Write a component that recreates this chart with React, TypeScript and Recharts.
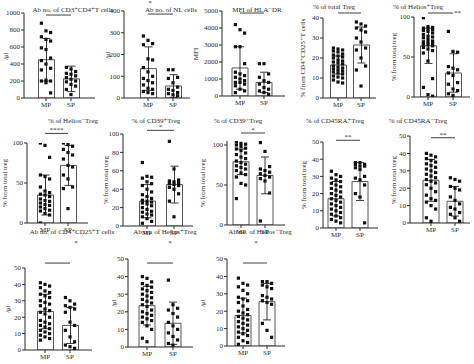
import { Bar, ComposedChart, ErrorBar, ReferenceLine, Scatter, XAxis, YAxis } from "recharts";

const groups = ["MP", "SP"];

// panel values (dots), bar means and SD
const cd3MP = [880, 790, 770, 720, 690, 670, 590, 570, 470, 440, 400, 350, 330, 210, 200, 200, 180, 60];
const cd3SP = [360, 340, 310, 290, 280, 260, 240, 220, 200, 190, 160, 140, 100, 40];
const nlMP = [285, 265, 250, 245, 180, 175, 140, 120, 100, 90, 80, 70, 60, 45, 40, 30, 25, 20];
const nlSP = [130, 130, 95, 90, 70, 50, 40, 35, 25, 20, 15, 10];
const hlaMP = [4200, 3900, 3700, 2900, 2900, 1900, 1400, 1300, 1200, 1100, 1000, 900, 800, 800, 700, 600, 400, 300, 200];
const hlaSP = [1900, 1900, 1300, 1100, 900, 800, 700, 500, 400, 300, 200, 100];
const tregMP = [25, 24.5, 24, 23.5, 23, 22, 21.5, 21, 20.5, 20, 19, 18.5, 18, 17.5, 17, 16, 15.5, 15, 14.5, 14, 13.5, 13, 12.5, 12, 11, 10.5, 10, 9, 8, 7.5];
const tregSP = [38, 37, 36, 35, 34, 33, 30, 28, 25, 24, 20, 16, 14, 6];
const helPosMP = [99, 88, 87, 86, 85, 84, 83, 82, 80, 78, 76, 75, 74, 72, 70, 69, 68, 67, 66, 65, 64, 62, 60, 58, 55, 45, 23, 12, 3, 1];
const helPosSP = [82, 57, 56, 38, 36, 34, 30, 27, 18, 16, 10, 8, 4, 2];
const helNegMP = [100, 97, 82, 60, 58, 55, 45, 40, 38, 36, 35, 33, 30, 28, 27, 25, 23, 22, 20, 18, 16, 15, 12, 10, 0];
const helNegSP = [100, 98, 96, 92, 88, 85, 80, 72, 70, 60, 55, 45, 43, 18];
const cd39PosMP = [69, 54, 53, 52, 48, 46, 44, 40, 37, 34, 32, 30, 28, 27, 26, 25, 24, 22, 20, 18, 16, 15, 13, 12, 10, 8, 5, 3];
const cd39PosSP = [92, 62, 50, 49, 48, 47, 46, 45, 44, 42, 40, 35, 27, 10];
const cd39NegMP = [104, 102, 101, 100, 98, 96, 95, 93, 90, 88, 85, 83, 80, 78, 76, 74, 72, 70, 68, 65, 63, 60, 52, 50, 33];
const cd39NegSP = [103, 92, 73, 70, 68, 66, 64, 62, 60, 58, 55, 40, 5];
const cd45PosMP = [33, 31, 30, 29, 28, 27, 26, 25, 24, 23, 22, 21, 20, 19, 18, 17, 16, 15, 14, 13, 12, 11, 10, 9, 8, 7, 6, 5, 4, 3];
const cd45PosSP = [38, 38, 37, 37, 36, 36, 35, 34, 30, 29, 28, 25, 20, 18, 3];
const cd45NegMP = [40, 39, 38, 37, 36, 35, 34, 33, 32, 31, 30, 29, 28, 27, 26, 25, 24, 23, 22, 20, 18, 16, 14, 13, 12, 10, 8, 3, 1];
const cd45NegSP = [26, 25, 24, 21, 20, 19, 15, 13, 11, 9, 8, 6, 5, 3, 1];
const cd25MP = [41, 40, 39, 38, 36, 35, 34, 33, 32, 30, 29, 28, 27, 25, 24, 23, 22, 20, 18, 17, 16, 15, 14, 13, 12, 11, 10, 9, 8, 7, 6];
const cd25SP = [32, 30, 28, 27, 26, 25, 23, 17, 15, 12, 8, 5, 3, 2, 1];
const helPosAbsMP = [40, 39, 37, 36, 35, 34, 33, 32, 31, 30, 29, 28, 27, 26, 25, 24, 23, 21, 20, 19, 18, 17, 16, 15, 14, 12, 10, 5, 3];
const helPosAbsSP = [38, 24, 22, 21, 19, 17, 14, 12, 10, 8, 6, 4, 2, 1];
const helNegAbsMP = [39, 36, 35, 34, 32, 30, 28, 27, 26, 25, 23, 21, 20, 19, 18, 17, 16, 15, 14, 13, 12, 11, 10, 9, 8, 7, 6, 5, 3, 2, 1];
const helNegAbsSP = [37, 37, 36, 35, 34, 33, 29, 28, 27, 26, 25, 24, 13, 9, 5];

const means = [[450, 225], [135, 55], [1650, 800], [16.5, 26.5], [64, 30], [35, 72], [27, 45], [79, 62], [17, 27], [24.5, 12.5], [23.5, 15], [23.5, 13.5], [17.5, 25.5]];
const sds = [[250, 150], [100, 52], [1250, 600], [4.5, 9], [22, 24], [25, 25], [18, 20], [16, 23], [10, 11], [12, 8.5], [10.5, 11], [11, 12], [10, 10.5]];

const titles = [
  "Ab no. of CD3⁺CD4⁺T cells", "Ab no. of NL cells", "MFI of HLA⁻DR", "% of total Treg", "% of Helios⁺Treg",
  "% of Helios⁻Treg", "% of CD39⁺Treg", "% of CD39⁻Treg", "% of CD45RA⁺Treg", "% of CD45RA⁻Treg",
  "Ab no. of CD4⁺CD25⁺T cells", "Ab no. of Helios⁺Treg", "Ab no. of Helios⁻Treg",
];
const yLabels = ["/μl", "/μl", "MFI", "% from CD4⁺CD25⁺T cells", "% from total treg", "% from total treg", "% from total treg", "% from total treg", "% from total treg", "% from total treg", "/μl", "/μl", "/μl"];
const yTicks = [
  [0, 200, 400, 600, 800, 1000], [0, 100, 200, 300, 400], [0, 1000, 2000, 3000, 4000, 5000], [0, 10, 20, 30, 40], [0, 50, 100],
  [0, 50, 100], [0, 20, 40, 60, 80, 100], [0, 50, 100], [0, 10, 20, 30, 40, 50], [0, 10, 20, 30, 40, 50],
  [0, 10, 20, 30, 40, 50], [0, 10, 20, 30, 40, 50], [0, 10, 20, 30, 40, 50],
];
const yMax = [1000, 400, 5000, 40, 100, 100, 100, 105, 50, 50, 50, 50, 50];
const sigY = [976, 386, 4880, 42.5, 105, 112, 104, 115, 51, 49, 53, 47.7, 47.7];
const sigText = ["", "", "", "", "**", "****", "*", "*", "**", "**", "", "", ""];
const belowStars = ["", "*", "", "", "", "", "", "", "", "", "*", "*", "*"];

const series = [
  [cd3MP, cd3SP], [nlMP, nlSP], [hlaMP, hlaSP], [tregMP, tregSP], [helPosMP, helPosSP],
  [helNegMP, helNegSP], [cd39PosMP, cd39PosSP], [cd39NegMP, cd39NegSP], [cd45PosMP, cd45PosSP], [cd45NegMP, cd45NegSP],
  [cd25MP, cd25SP], [helPosAbsMP, helPosAbsSP], [helNegAbsMP, helNegAbsSP],
];

// layout: axis x, y of top value, y of zero, x-axis right end, group centers, y-label x, title center, star pos
const layout = [
  { ax: 24, yt: 13, yb: 98, xr: 95, c1: 46, c2: 71, lx: 6, tx: 73, ty: 10, sx: 0, sy: 0 },
  { ax: 124, yt: 11, yb: 98, xr: 190, c1: 148, c2: 173, lx: 108, tx: 171, ty: 10, sx: 150, sy: 3 },
  { ax: 222, yt: 11, yb: 96, xr: 285, c1: 240, c2: 264, lx: 196, tx: 257, ty: 10, sx: 0, sy: 0 },
  { ax: 323, yt: 18, yb: 98, xr: 376, c1: 338, c2: 361, lx: 303, tx: 334, ty: 7, sx: 0, sy: 0 },
  { ax: 414, yt: 17, yb: 97, xr: 470, c1: 428, c2: 453, lx: 394, tx: 418, ty: 7, sx: 0, sy: 0 },
  { ax: 27, yt: 143, yb: 223, xr: 88, c1: 45, c2: 68, lx: 5, tx: 73, ty: 121, sx: 0, sy: 0 },
  { ax: 123, yt: 134, yb: 226, xr: 193, c1: 147, c2: 174, lx: 106, tx: 156, ty: 121, sx: 0, sy: 0 },
  { ax: 227, yt: 141, yb: 225, xr: 285, c1: 241, c2: 265, lx: 203, tx: 238, ty: 121, sx: 0, sy: 0 },
  { ax: 323, yt: 142, yb: 228, xr: 378, c1: 336, c2: 360, lx: 304, tx: 335, ty: 121, sx: 0, sy: 0 },
  { ax: 410, yt: 136, yb: 223, xr: 470, c1: 431, c2: 455, lx: 394, tx: 418, ty: 121, sx: 0, sy: 0 },
  { ax: 25, yt: 268, yb: 350, xr: 92, c1: 45, c2: 70, lx: 8, tx: 72, ty: 232, sx: 76, sy: 243 },
  { ax: 128, yt: 259, yb: 347, xr: 193, c1: 147, c2: 173, lx: 114, tx: 165, ty: 232, sx: 170, sy: 243 },
  { ax: 227, yt: 259, yb: 346, xr: 285, c1: 243, c2: 267, lx: 203, tx: 260, ty: 232, sx: 256, sy: 243 },
];

const font = "'Liberation Serif', 'DejaVu Serif', serif";
const ink = "#2b2b2b";

const Dot = (p: any) => {
  const k = p.payload?.k ?? 0;
  const off = ((k % 3) - 1) * 4.6;
  return <rect x={p.cx + off - 1.6} y={p.cy - 1.6} width={3.2} height={3.2} fill="#111" />;
};

function Panel({ i }: { i: number }) {
  const L = layout[i];
  const mt = 18, mr = 14, xh = 14, w = 24;
  const band = L.c2 - L.c1;
  const padL = L.c1 - band / 2 - L.ax;
  const padR = L.xr - (L.c2 + band / 2);
  const bars = groups.map((g, j) => ({ g, m: means[i][j], e: [sds[i][j], sds[i][j]] }));
  const pts = groups.flatMap((g, j) =>
    [...series[i][j]].sort((a, b) => b - a).map((v, k) => ({ g, v, k }))
  );
  const tick = { fontSize: 7, fill: ink, fontFamily: font };
  return (
    <div style={{ position: "absolute", left: L.ax - w, top: L.yt - mt }}>
      <ComposedChart
        width={w + (L.xr - L.ax) + mr}
        height={mt + (L.yb - L.yt) + xh}
        data={bars}
        margin={{ top: mt, right: mr, left: 0, bottom: 0 }}
      >
        <XAxis
          dataKey="g"
          type="category"
          allowDuplicatedCategory={false}
          height={xh}
          padding={{ left: padL, right: padR }}
          tick={tick}
          tickSize={3}
          tickMargin={1}
          stroke={ink}
          interval={0}
        />
        <YAxis
          width={w}
          domain={[0, yMax[i]]}
          ticks={yTicks[i]}
          allowDataOverflow
          tick={tick}
          tickSize={3}
          tickMargin={1}
          stroke={ink}
          interval={0}
        />
        <Bar dataKey="m" barSize={16} fill="#fff" stroke="#444" strokeWidth={0.9} isAnimationActive={false}>
          <ErrorBar dataKey="e" width={4} stroke="#222" strokeWidth={0.9} direction="y" />
        </Bar>
        <Scatter data={pts} dataKey="v" shape={Dot} isAnimationActive={false} />
        <ReferenceLine
          segment={[{ x: "MP", y: sigY[i] }, { x: "SP", y: sigY[i] }]}
          stroke={ink}
          strokeWidth={0.9}
          ifOverflow="visible"
          label={sigText[i] ? { value: sigText[i], position: i === 4 ? "right" : "top", offset: 1, fontSize: 7, fill: ink, fontFamily: font } : undefined}
        />
      </ComposedChart>
    </div>
  );
}

export default function App() {
  return (
    <div style={{ position: "absolute", left: 0, top: 0, width: 474, height: 364, background: "#fff", overflow: "hidden", fontFamily: font, color: ink }}>
      {layout.map((L, i) => (
        <Panel key={i} i={i} />
      ))}
      {layout.map((L, i) => (
        <div key={"y" + i} style={{ position: "absolute", left: L.lx, top: (L.yt + L.yb) / 2, transform: "translate(-50%, -50%) rotate(-90deg)", whiteSpace: "nowrap", fontSize: 7, lineHeight: "8px" }}>
          {yLabels[i]}
        </div>
      ))}
      {layout.map((L, i) => (
        <div key={"t" + i} style={{ position: "absolute", left: L.tx, top: L.ty - 5, transform: "translateX(-50%)", whiteSpace: "nowrap", fontSize: 7, lineHeight: "10px" }}>
          {titles[i]}
        </div>
      ))}
      {layout.map((L, i) =>
        belowStars[i] ? (
          <div key={"s" + i} style={{ position: "absolute", left: L.sx, top: L.sy - 4, transform: "translateX(-50%)", fontSize: 7, lineHeight: "8px" }}>
            {belowStars[i]}
          </div>
        ) : null
      )}
    </div>
  );
}
